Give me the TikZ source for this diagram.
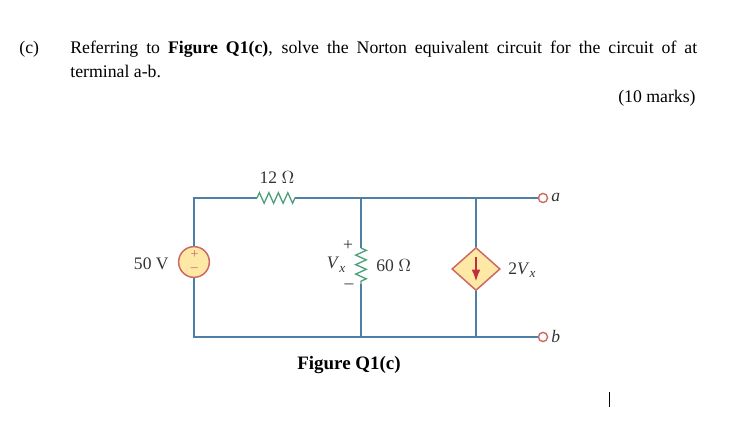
\documentclass[tikz,border=0pt]{standalone}
\usepackage{fontspec}
\setmainfont{Liberation Serif}
\usetikzlibrary{shapes.geometric,decorations.pathmorphing,arrows.meta}
\definecolor{wireblue}{HTML}{4F7FA6}
\definecolor{resgreen}{HTML}{4C9F78}
\definecolor{srcfill}{HTML}{FDE8A6}
\definecolor{srcedge}{HTML}{CC6A63}
\definecolor{arrowred}{HTML}{BE2F3C}
\definecolor{labelgrey}{HTML}{333333}
\tikzset{
  wire/.style={draw=wireblue, line width=0.9pt},
  resistor/.style={draw=resgreen, line width=0.75pt, decorate,
    decoration={zigzag, segment length=5.4pt, amplitude=3pt}},
  source/.style={circle, draw=srcedge, fill=srcfill, line width=0.85pt, minimum size=17.5pt, inner sep=0pt},
  depsource/.style={diamond, draw=srcedge, fill=srcfill, line width=0.85pt, minimum width=27.5pt, minimum height=24.5pt, inner sep=0pt},
  terminal/.style={circle, draw=srcedge, fill=white, line width=0.8pt, minimum size=5.2pt, inner sep=0pt},
  complabel/.style={text=labelgrey, font=\fontsize{10}{12}\selectfont, inner sep=0pt},
  bodytext/.style={font=\fontsize{10.1}{13.66}\selectfont, inner sep=0pt, text=black}
}
\begin{document}
\begin{tikzpicture}[x=0.02cm,y=-0.02cm]
\useasboundingbox (0,0) rectangle (745,428);

% Question text
\node[bodytext, anchor=base west] (part) at (19,54) {(c)};
\node[bodytext, anchor=base west] (question) at (70,54)
  {\hbox to 356.8pt{Referring to \textbf{Figure Q1(c)}, solve the Norton equivalent circuit for the circuit of at}};
\node[bodytext, anchor=base west] (terminals) at (70,78) {terminal a-b.};
\node[bodytext, anchor=base east] (marks) at (696,103) {(10 marks)};

% Corners and junctions
\coordinate (tl) at (194,198);
\coordinate (bl) at (194,337);
\coordinate (tm) at (361,198);
\coordinate (bm) at (361,337);
\coordinate (tr) at (476,198);
\coordinate (br) at (476,337);

% Sources
\node[source] (vs) at (194,262) {};
\node[depsource] (cs) at (476,269) {};

% Terminals
\node[terminal] (ta) at (543,198) {};
\node[terminal] (tb) at (543,337) {};

% Resistor ends
\coordinate (r1a) at (257,198);
\coordinate (r1b) at (295,198);
\coordinate (r2a) at (361,248);
\coordinate (r2b) at (361,284);

% Wires
\draw[wire] (vs) -- (tl) -- (r1a);
\draw[wire] (r1b) -- (tm) -- (tr) -- (ta);
\draw[wire] (vs) -- (bl) -- (bm) -- (br) -- (tb);
\draw[wire] (tm) -- (r2a);
\draw[wire] (r2b) -- (bm);
\draw[wire] (tr) -- (cs);
\draw[wire] (cs) -- (br);

% Resistors
\draw[resistor] (r1a) -- (r1b);
\draw[resistor] (r2a) -- (r2b);

% Source marks
\coordinate (arrowtop) at (476,257);
\coordinate (arrowtip) at (476,282);
\draw[draw=arrowred, line width=1.5pt, -{Latex[length=7pt,width=5pt]}] (arrowtop) -- (arrowtip);
\node[text=srcedge, inner sep=0pt, font=\fontsize{8}{8}\selectfont] (vplus) at (194.5,254.5) {+};
\node[text=srcedge, inner sep=0pt, font=\fontsize{8}{8}\selectfont] (vminus) at (194.5,269.5) {–};

% Labels
\node[complabel] (r1lab) at (277,178) {12 $\Omega$};
\node[complabel, anchor=east] (vslab) at (169,264) {50 V};
\node[complabel] (vplab) at (348,246) {+};
\node[complabel] (vmlab) at (349,286) {–};
\node[complabel] (vxlab) at (336,265) {\textit{V}\raisebox{-2pt}{\fontsize{7.5}{7.5}\selectfont\textit{x}}};
\node[complabel, anchor=west] (r2lab) at (376,266) {60 $\Omega$};
\node[complabel, anchor=west] (cslab) at (508,270) {2\textit{V}\raisebox{-2pt}{\fontsize{7.5}{7.5}\selectfont\textit{x}}};
\node[complabel, anchor=west, font=\fontsize{10}{12}\selectfont\itshape] (alab) at (551,197) {a};
\node[complabel, anchor=west, font=\fontsize{10}{12}\selectfont\itshape] (blab) at (551,336) {b};

% Caption
\node[inner sep=0pt, font=\fontsize{10.8}{13}\selectfont\bfseries] (caption) at (349,365) {Figure Q1(c)};

% Text cursor
\coordinate (cursora) at (609,392);
\coordinate (cursorb) at (609,407);
\draw[black, line width=0.5pt] (cursora) -- (cursorb);

\end{tikzpicture}
\end{document}
